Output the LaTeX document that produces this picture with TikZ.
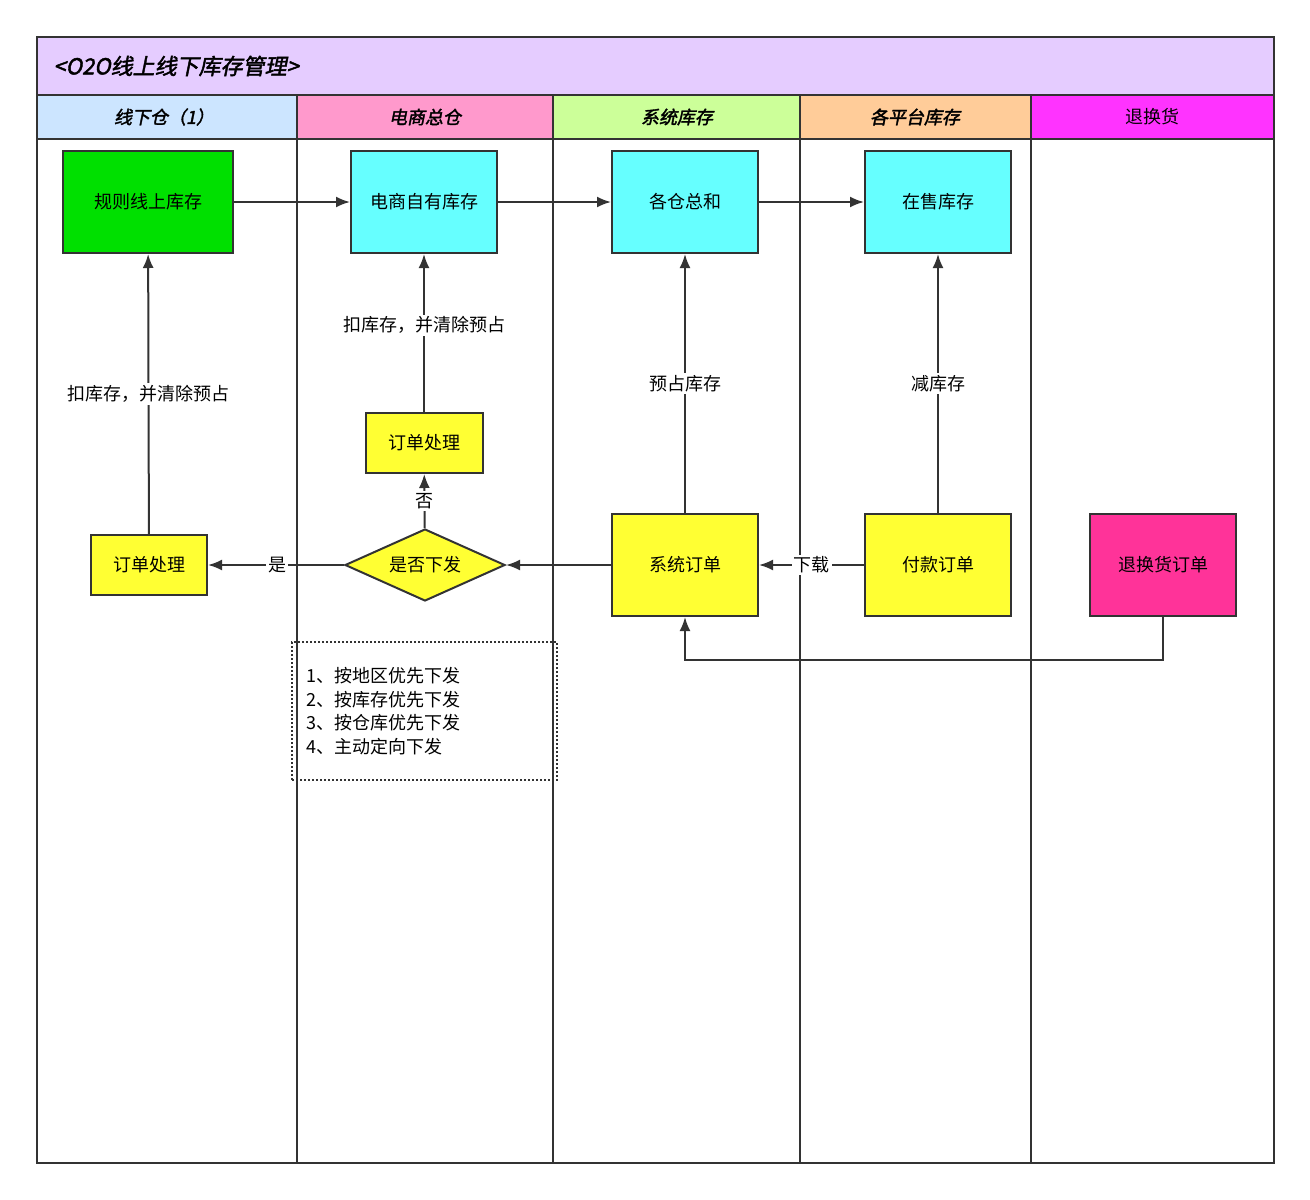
\documentclass[tikz,border=0pt]{standalone}
\usepackage{fontspec}
\setmainfont{Noto Sans CJK SC}[AutoFakeSlant=0.2,AutoFakeBold=1.5]
\newfontfamily\cjkb{Noto Sans CJK SC}[FakeSlant=0.2,FakeBold=2]
\usetikzlibrary{shapes.geometric,arrows.meta}
\definecolor{ln}{HTML}{333333}
\definecolor{yl}{HTML}{FFFF33}
\begin{document}
\begin{tikzpicture}[x=1pt,y=-1pt,
 box/.style={draw=ln,line width=2pt,minimum width=146pt,minimum height=102pt,font=\fontsize{18}{21}\selectfont,inner sep=0},
 ar/.style={draw=ln,line width=2pt,-{Latex[length=14pt,width=11pt]}},
 lab/.style={fill=white,font=\fontsize{18}{21}\selectfont,inner sep=2pt},
 hd/.style={font=\fontsize{18}{21}\selectfont\cjkb}]
\useasboundingbox (0,0) rectangle (1310,1200);
\fill[fill={rgb,255:red,229;green,204;blue,255}] (37,37) rectangle (1274,95);
\fill[fill={rgb,255:red,204;green,229;blue,255}] (37,95) rectangle (297,139);
\fill[fill={rgb,255:red,255;green,153;blue,204}] (297,95) rectangle (553,139);
\fill[fill={rgb,255:red,204;green,255;blue,153}] (553,95) rectangle (800,139);
\fill[fill={rgb,255:red,255;green,204;blue,153}] (800,95) rectangle (1031,139);
\fill[fill={rgb,255:red,255;green,51;blue,255}] (1031,95) rectangle (1274,139);
\draw[ln,line width=2.5pt] (37,37) rectangle (1274,1163);
\draw[ln,line width=2.5pt] (37,95)--(1274,95) (37,139)--(1274,139);
\foreach \x in {297,553,800,1031} \draw[ln,line width=2.5pt] (\x,95)--(\x,1163);
\node[anchor=west,font=\fontsize{22}{25}\selectfont\cjkb] (title) at (50,66) {<O2O线上线下库存管理>};
\node[hd] (h1) at (164,117) {线下仓（1）};
\node[hd] (h2) at (425,117) {电商总仓};
\node[hd] (h3) at (677,117) {系统库存};
\node[hd] (h4) at (915,117) {各平台库存};
\node[font=\fontsize{18}{21}\selectfont] (h5) at (1152,117) {退换货};
\node[box,fill={rgb,255:red,0;green,224;blue,0},minimum width=170pt] (a) at (148,202) {规则线上库存};
\node[box,fill={rgb,255:red,102;green,255;blue,255}] (b) at (424,202) {电商自有库存};
\node[box,fill={rgb,255:red,102;green,255;blue,255}] (c) at (685,202) {各仓总和};
\node[box,fill={rgb,255:red,102;green,255;blue,255}] (d) at (938,202) {在售库存};
\node[box,fill=yl,minimum width=116pt,minimum height=60pt] (o1) at (149,565) {订单处理};
\node[box,fill=yl,minimum width=117pt,minimum height=60pt] (o2) at (424,443) {订单处理};
\node[diamond,draw=ln,line width=2pt,fill=yl,minimum width=160pt,minimum height=72pt,aspect=2.2,inner sep=0,font=\fontsize{18}{21}\selectfont] (q) at (425,565) {是否下发};
\node[box,fill=yl] (s) at (685,565) {系统订单};
\node[box,fill=yl] (p) at (938,565) {付款订单};
\node[box,fill={rgb,255:red,255;green,51;blue,153}] (r) at (1163,565) {退换货订单};
\node[draw=ln,line width=2pt,dash pattern=on 2pt off 2pt,minimum width=265pt,minimum height=138pt] (n) at (424.5,711) {};
\node[anchor=north west,align=left,font=\fontsize{18}{23.5}\selectfont] (nt) at (303,664) {1、按地区优先下发\\2、按库存优先下发\\3、按仓库优先下发\\4、主动定向下发};
\draw[ar] (a)--(b);
\draw[ar] (b)--(c);
\draw[ar] (c)--(d);
\draw[ar] (o1)-- node[lab]{扣库存，并清除预占} (a);
\draw[ar] (o2)-- node[lab,pos=0.55]{扣库存，并清除预占} (b);
\draw[ar] (q)-- node[lab]{否} (o2);
\draw[ar] (q)-- node[lab,pos=0.49]{是} (o1);
\draw[ar] (s)--(q);
\draw[ar] (p)-- node[lab]{下载} (s);
\draw[ar] (s)-- node[lab]{预占库存} (c);
\draw[ar] (p)-- node[lab]{减库存} (d);
\draw[ar] (r.south)|-(685,660)--(s.south);
\end{tikzpicture}
\end{document}
